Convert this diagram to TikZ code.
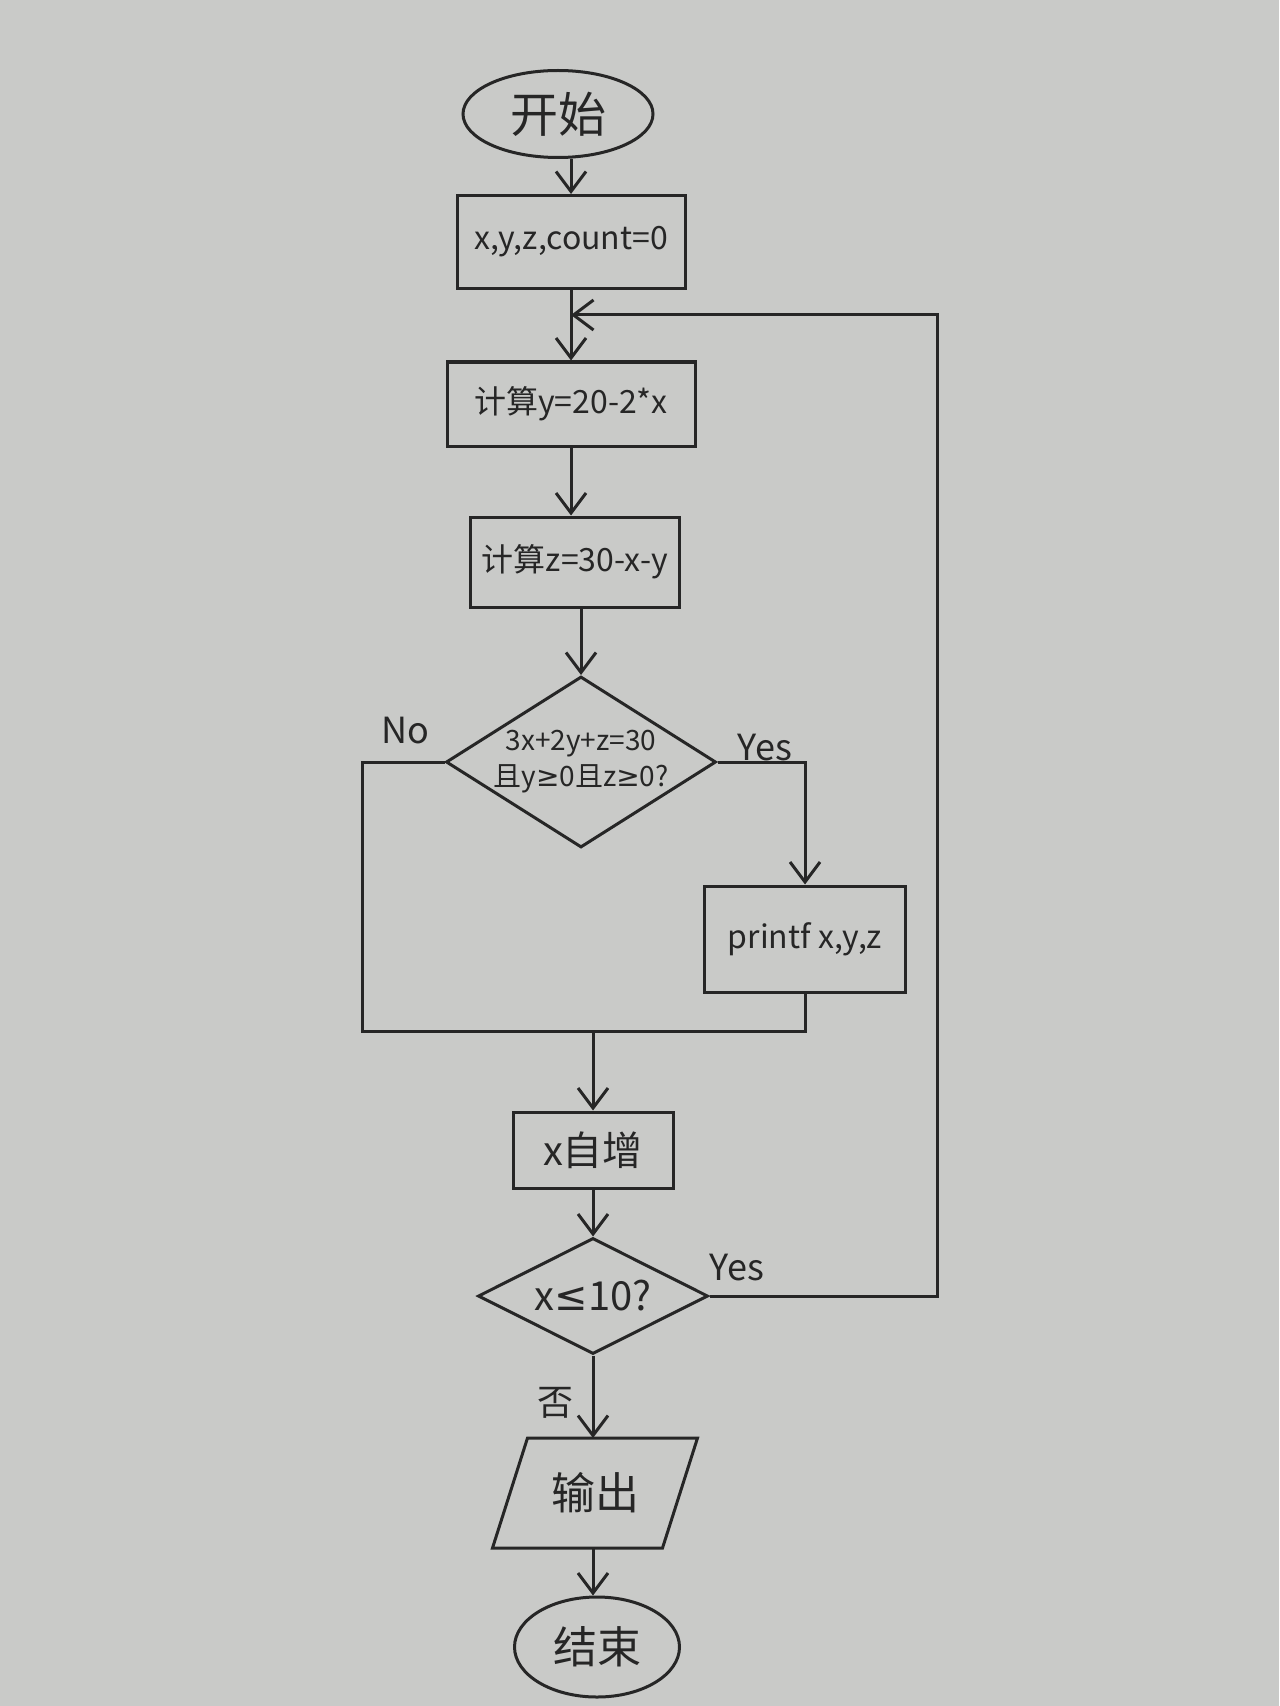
\documentclass[tikz,border=0pt]{standalone}
\usepackage{fontspec}
\setmainfont{Noto Sans CJK SC}
\newfontfamily\symf{DejaVu Sans}
\usetikzlibrary{shapes.geometric,arrows.meta}
\definecolor{paper}{RGB}{201,202,200}
\definecolor{ink}{RGB}{38,38,38}
\begin{document}
\begin{tikzpicture}[x=0.5pt,y=-0.5pt,line width=1.5pt,color=ink,
  term/.style={ellipse,draw,inner sep=0pt},
  proc/.style={rectangle,draw,inner sep=0pt},
  dec/.style={diamond,draw,inner sep=0pt},
  arr/.style={-{Straight Barb[length=10pt,width=15pt,line width=1.5pt]}},
  lab/.style={font=\fontsize{18}{20}\selectfont},
  txt/.style={font=\fontsize{16}{18}\selectfont}]
\fill[paper] (0,0) rectangle (1279,1706);
\useasboundingbox (0,0) rectangle (1279,1706);

\node[term,minimum width=95pt,minimum height=43.5pt,font=\fontsize{24}{28}\selectfont] (start) at (558,114) {开始};
\node[proc,txt,minimum width=114pt,minimum height=46.5pt] (init) at (571,242) {x,y,z,count=0};
\node[proc,txt,minimum width=124pt,minimum height=42pt] (cy) at (571,404) {计算y=20-2*x};
\node[proc,txt,minimum width=104.5pt,minimum height=45pt] (cz) at (575,562) {计算z=30-x-y};
\node[dec,minimum width=135pt,minimum height=85.5pt] (d1) at (581,762) {};
\node[font=\fontsize{14}{18}\selectfont,align=center] (d1t) at (d1.center) {3x+2y+z=30\\且y{\symf ≥}0且z{\symf ≥}0?};
\node[proc,txt,minimum width=100.5pt,minimum height=53pt] (pr) at (805,939) {printf x,y,z};
\node[proc,font=\fontsize{20}{24}\selectfont,minimum width=80pt,minimum height=38pt] (inc) at (593,1150) {x自增};
\node[dec,minimum width=115pt,minimum height=58pt] (d2) at (593,1296) {};
\node[font=\fontsize{20}{24}\selectfont] (d2t) at (d2.center) {x{\symf ≤}10?};
\node[inner sep=0pt,minimum width=83.5pt,minimum height=53.5pt,font=\fontsize{22}{26}\selectfont] (out) at (595,1493) {输出};
\draw ([xshift=8.75pt]out.north west) -- ([xshift=8.75pt]out.north east) -- ([xshift=-8.75pt]out.south east) -- ([xshift=-8.75pt]out.south west) -- cycle;
\node[term,minimum width=82.5pt,minimum height=50pt,font=\fontsize{22}{26}\selectfont] (end) at (597,1647) {结束};

\coordinate (nl) at (362,1031);
\coordinate (mr) at (pr.south |- nl);
\coordinate (mm) at (inc.north |- nl);
\coordinate (lr) at (937,315);
\coordinate (jn) at (init.south |- lr);

\draw[arr] (start.south -| init.north) -- (init.north);
\draw[arr] (init) -- (cy);
\draw[arr] (cy.south) -- (cy.south |- cz.north);
\draw[arr] (cz.south -| d1.north) -- (d1.north);
\draw[arr] (d1.east) -| (pr.north);
\draw (d1.west) -| (nl) -- (mr) -- (pr.south);
\draw[arr] (mm) -- (inc.north);
\draw[arr] (inc) -- (d2);
\draw[arr] (d2.east) -| (lr) -- (jn);
\draw[arr] (d2.south) -- (d2.south |- out.north);
\draw[arr] (out.south -| d2.south) -- (d2.south |- end.north);

\node[lab] (lno) at (405,731) {No};
\node[lab] (lyes1) at (765,748) {Yes};
\node[lab] (lyes2) at (737,1268) {Yes};
\node[lab] (lfou) at (555,1403) {否};
\end{tikzpicture}
\end{document}
